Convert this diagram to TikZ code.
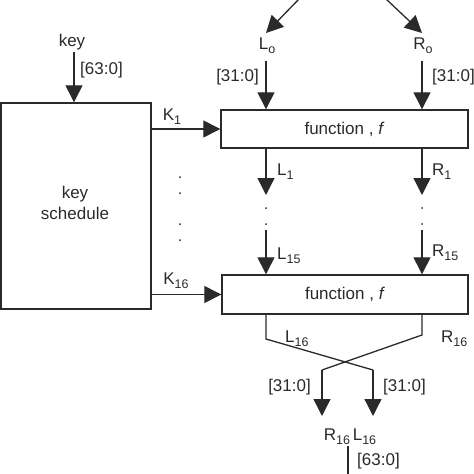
\documentclass[tikz,border=0pt]{standalone}
\usepackage{fontspec}
\setmainfont{Liberation Sans}
\usetikzlibrary{arrows.meta}
\definecolor{ink}{HTML}{2A2A2A}
\newcommand{\sbs}[1]{\raisebox{-4pt}{\fontsize{12.5}{14}\selectfont #1}}
\begin{document}
\begin{tikzpicture}[x=1pt,y=-1pt,
  every node/.style={font=\fontsize{17}{20}\selectfont, text=ink, inner sep=0pt},
  blk/.style={draw=ink, line width=1.4pt, inner sep=0pt},
  wire/.style={draw=ink, line width=1.3pt},
  arr/.style={wire, -{Triangle[length=17pt,width=17pt]}},
  dotmark/.style={circle, fill=ink, minimum size=2pt, inner sep=0pt}
]
\useasboundingbox (0,0) rectangle (474,474);
% boxes
\node[blk, minimum width=150pt, minimum height=206pt] (ks) at (76,206) {};
\node[align=center] (kstext) at (75,203) {key\\[1pt]schedule};
\node[blk, minimum width=247pt, minimum height=38pt] (f1) at (344.5,129) {function , \textit{f}};
\node[blk, minimum width=246pt, minimum height=39pt] (f2) at (345,294.5) {function , \textit{f}};
% key input
\node (key) at (72,42) {key};
\coordinate (keytop) at (74,52);
\draw[arr] (keytop) -- (ks.north -| keytop);
\node[anchor=west] (k63) at (80,70) {[63:0]};
% top inputs
\coordinate (ltop) at (300,-2);
\coordinate (rtop) at (385,-2);
\coordinate (l0tip) at (266,33);
\coordinate (r0tip) at (422,33);
\draw[arr] (ltop) -- (l0tip);
\draw[arr] (rtop) -- (r0tip);
\node (L0) at (267,46) {L\sbs{o}};
\node (R0) at (423,46) {R\sbs{o}};
\coordinate (l0s) at (266,61);
\coordinate (r0s) at (422,61);
\draw[arr] (l0s) -- (f1.north -| l0s);
\draw[arr] (r0s) -- (f1.north -| r0s);
\node[anchor=east] (b1) at (259,77) {[31:0]};
\node[anchor=west] (b2) at (432,77) {[31:0]};
% K1
\draw[arr] (ks.east |- f1.west) -- (f1.west);
\node (K1) at (172,117) {K\sbs{1}};
% L1 R1
\coordinate (l1e) at (266,195);
\coordinate (r1e) at (422,195);
\draw[arr] (f1.south -| l1e) -- (l1e);
\draw[arr] (f1.south -| r1e) -- (r1e);
\node[anchor=west] (L1) at (277,172) {L\sbs{1}};
\node[anchor=west] (R1) at (432,172) {R\sbs{1}};
% dots
\foreach \y in {208,224} {
  \node[dotmark] at (266,\y) {};
  \node[dotmark] at (422,\y) {};
}
\foreach \y in {177,193,224,240} {
  \node[dotmark] at (180,\y) {};
}
% L15 R15
\coordinate (l15s) at (266,230);
\coordinate (r15s) at (422,230);
\draw[arr] (l15s) -- (f2.north -| l15s);
\draw[arr] (r15s) -- (f2.north -| r15s);
\node[anchor=west] (L15) at (277,256) {L\sbs{15}};
\node[anchor=west] (R15) at (432,253) {R\sbs{15}};
% K16
\draw[arr] (ks.east |- f2.west) -- (f2.west);
\node (K16) at (176,281) {K\sbs{16}};
% swap
\coordinate (la) at (266,339);
\coordinate (ra) at (422,335);
\coordinate (lb) at (373,370);
\coordinate (rb) at (322,370);
\coordinate (lt) at (373,416);
\coordinate (rt) at (322,416);
\draw[wire] (f2.south -| la) -- (la) -- (lb);
\draw[wire] (f2.south -| ra) -- (ra) -- (rb);
\draw[arr] (lb) -- (lt);
\draw[arr] (rb) -- (rt);
\node[anchor=west] (L16) at (285,339) {L\sbs{16}};
\node[anchor=west] (R16) at (441,339) {R\sbs{16}};
\node[anchor=east] (b3) at (311,387) {[31:0]};
\node[anchor=west] (b4) at (383,387) {[31:0]};
\node (out) at (350,437) {R\sbs{16}\,L\sbs{16}};
\coordinate (outb) at (348,476);
\draw[wire] (348,446) -- (outb);
\node[anchor=west] (o63) at (357,461) {[63:0]};
\end{tikzpicture}
\end{document}
